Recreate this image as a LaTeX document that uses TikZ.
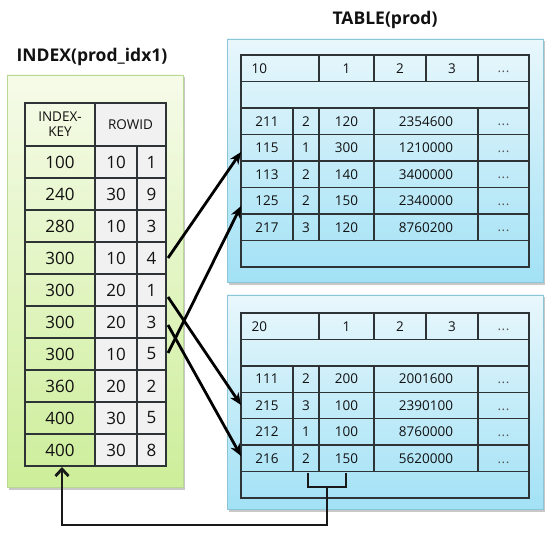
\documentclass[tikz,border=0pt]{standalone}
\usepackage{fontspec}
\setmainfont{Open Sans}
\usetikzlibrary{arrows.meta}
\definecolor{grnTop}{HTML}{F6FBE9}
\definecolor{grnBot}{HTML}{CDEE9A}
\definecolor{grnEdge}{HTML}{B9D893}
\definecolor{bluTop}{HTML}{E8F7FC}
\definecolor{bluBot}{HTML}{A2E1F5}
\definecolor{bluEdge}{HTML}{8CC6D6}
\definecolor{lineC}{HTML}{2E3436}
\definecolor{cellGray}{HTML}{F1F1F1}
\definecolor{txt}{HTML}{111111}
\definecolor{dotC}{HTML}{555555}
\definecolor{shadowC}{HTML}{C8C8C8}
\begin{document}
\begin{tikzpicture}[x=1pt,y=-1pt,
  ttl/.style={font=\bfseries\fontsize{17.5}{20}\selectfont, text=txt},
  ik/.style={font=\fontsize{17}{19}\selectfont, text=txt},
  hd/.style={font=\fontsize{13.5}{15}\selectfont, text=txt, align=center},
  tc/.style={font=\fontsize{13.5}{15}\selectfont, text=txt},
  dots/.style={font=\fontsize{13.5}{15}\selectfont, text=dotC},
  gl/.style={draw=lineC, line width=1.5pt},
  arr/.style={line width=2.8pt, draw=black, -{Stealth[length=12pt,width=10pt]}},
  brk/.style={line width=2.8pt, draw=black!90},
  gbox/.style={top color=grnTop, bottom color=grnBot, draw=grnEdge, line width=0.8pt},
  bbox/.style={top color=bluTop, bottom color=bluBot, draw=bluEdge, line width=0.8pt}
]
\useasboundingbox (0,0) rectangle (550,534);

% ---------- titles ----------
\node[ttl] (ttlIdx) at (92,57) {INDEX(prod\_idx1)};
\node[ttl] (ttlTab) at (385,20) {TABLE(prod)};

% ---------- index box ----------
\fill[shadowC] (9,77) rectangle (185,490);
\shade[gbox] (7,75) rectangle (183,487);
\fill[cellGray] (95,103) rectangle (166,466);
% grid
\draw[gl] (25,103) rectangle (166,466);
\draw[gl] (95,103) -- (95,466);
\draw[gl] (137,146) -- (137,466);
\foreach \i in {0,...,9} { \draw[gl] (25,146+32*\i) -- (166,146+32*\i); }
\node[hd] (hKey) at (60,124.5) {INDEX-\\KEY};
\node[hd] (hRow) at (130.5,124.5) {ROWID};
\foreach \k/\a/\b [count=\i from 0] in {100/10/1,240/30/9,280/10/3,300/10/4,300/20/1,300/20/3,300/10/5,360/20/2,400/30/5,400/30/8}{
  \node[ik] (key\i) at (60,162+32*\i) {\k};
  \node[ik] (blk\i) at (116,162+32*\i) {\a};
  \node[ik] (row\i) at (151.5,162+32*\i) {\b};
}

% ---------- top table box ----------
\fill[shadowC] (229,41) rectangle (545,285);
\shade[bbox] (227,39) rectangle (543,282);
\draw[gl] (241,55) rectangle (529,267);
\foreach \k in {1,...,7} { \draw[gl] (241,55+26.5*\k) -- (529,55+26.5*\k); }
\foreach \x in {319,374,426,478} { \draw[gl] (\x,55) -- (\x,81.5); }
\foreach \x in {293,319,374,478} { \draw[gl] (\x,108) -- (\x,240.5); }
\node[tc, anchor=west] (aH0) at (248,68.25) {10};
\node[tc] (aH1) at (346.5,68.25) {1};
\node[tc] (aH2) at (400,68.25) {2};
\node[tc] (aH3) at (452,68.25) {3};
\node[dots, anchor=base] (aH4) at (503.5,73) {.\kern0.5pt.\kern0.5pt.};
\foreach \p/\q/\r/\s [count=\i from 0] in {211/2/120/2354600,115/1/300/1210000,113/2/140/3400000,125/2/150/2340000,217/3/120/8760200}{
  \node[tc] (aA\i) at (267,121.25+26.5*\i) {\p};
  \node[tc] (aB\i) at (306,121.25+26.5*\i) {\q};
  \node[tc] (aC\i) at (346.5,121.25+26.5*\i) {\r};
  \node[tc] (aD\i) at (426,121.25+26.5*\i) {\s};
  \node[dots, anchor=base] (aE\i) at (503.5,126+26.5*\i) {.\kern0.5pt.\kern0.5pt.};
}

% ---------- bottom table box ----------
\fill[shadowC] (229,297) rectangle (545,512);
\shade[bbox] (227,295) rectangle (543,509);
\draw[gl] (241,313) rectangle (529,498);
\foreach \k in {1,...,6} { \draw[gl] (241,313+26.43*\k) -- (529,313+26.43*\k); }
\foreach \x in {319,374,426,478} { \draw[gl] (\x,313) -- (\x,339.43); }
\foreach \x in {293,319,374,478} { \draw[gl] (\x,365.86) -- (\x,471.58); }
\node[tc, anchor=west] (bH0) at (248,326.2) {20};
\node[tc] (bH1) at (346.5,326.2) {1};
\node[tc] (bH2) at (400,326.2) {2};
\node[tc] (bH3) at (452,326.2) {3};
\node[dots, anchor=base] (bH4) at (503.5,331) {.\kern0.5pt.\kern0.5pt.};
\foreach \p/\q/\r/\s [count=\i from 0] in {111/2/200/2001600,215/3/100/2390100,212/1/100/8760000,216/2/150/5620000}{
  \node[tc] (bA\i) at (267,379.1+26.43*\i) {\p};
  \node[tc] (bB\i) at (306,379.1+26.43*\i) {\q};
  \node[tc] (bC\i) at (346.5,379.1+26.43*\i) {\r};
  \node[tc] (bD\i) at (426,379.1+26.43*\i) {\s};
  \node[dots, anchor=base] (bE\i) at (503.5,383.9+26.43*\i) {.\kern0.5pt.\kern0.5pt.};
}

% ---------- connectors ----------
\coordinate (s1) at (168,258);
\coordinate (s2) at (168,353);
\coordinate (s3) at (168,297);
\coordinate (s4) at (168,325);
\coordinate (t1) at (241,152);
\coordinate (t2) at (241,206);
\coordinate (t3) at (241,405);
\coordinate (t4) at (241,456);
\draw[arr] (s1) -- (t1);
\draw[arr] (s2) -- (t2);
\draw[arr] (s3) -- (t3);
\draw[arr] (s4) -- (t4);

% bracket and return arrow
\coordinate (bl) at (308,473);
\coordinate (br) at (346,473);
\coordinate (bm) at (327,487);
\coordinate (c1) at (327,525);
\coordinate (c2) at (62,525);
\coordinate (ie) at (62,467);
\draw[brk, line join=miter] (bl) -- (308,487) -- (346,487) -- (br);
\draw[brk, line join=miter, -{Straight Barb[length=7pt,width=13pt]}] (bm) -- (c1) -- (c2) -- (ie);
\end{tikzpicture}
\end{document}
